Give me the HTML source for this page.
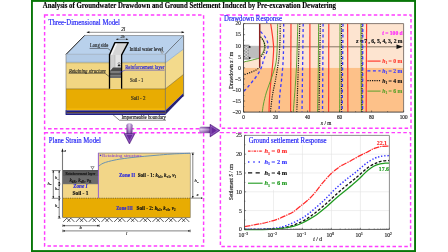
<!DOCTYPE html>
<html><head><meta charset="utf-8"><style>
html,body{margin:0;padding:0;background:#fff;width:448px;height:252px;overflow:hidden}
svg{display:block}
text{font-family:'Liberation Serif','Times New Roman',serif}
</style></head><body>
<svg width="448" height="252" viewBox="0 0 448 252">
<rect width="448" height="252" fill="#fff"/>
<rect x="31.95" y="0.95" width="383.1" height="250.1" fill="none" stroke="#087608" stroke-width="1.9"/>
<text x="42.7" y="8.1" font-size="7.5" font-weight="bold" fill="#000" textLength="293.3" lengthAdjust="spacingAndGlyphs" stroke="#000" stroke-width="0.15">Analysis of Groundwater Drawdown and Ground Settlement Induced by Pre-excavation Dewatering</text>
<rect x="44.6" y="15.0" width="159.0" height="113.80000000000001" fill="none" stroke="#ff3dff" stroke-width="1.45" stroke-dasharray="3.5 2.4"/>
<rect x="44.6" y="132.8" width="159.0" height="113.19999999999999" fill="none" stroke="#ff3dff" stroke-width="1.45" stroke-dasharray="3.5 2.4"/>
<rect x="220.4" y="15.0" width="190.6" height="113.30000000000001" fill="none" stroke="#ff3dff" stroke-width="1.45" stroke-dasharray="3.5 2.4"/>
<rect x="220.4" y="132.6" width="190.20000000000002" height="113.80000000000001" fill="none" stroke="#ff3dff" stroke-width="1.45" stroke-dasharray="3.5 2.4"/>
<text x="48.4" y="24.8" font-size="7.5" fill="#2b2bf5" stroke="#2b2bf5" stroke-width="0.2" textLength="71.6" lengthAdjust="spacingAndGlyphs">Three-Dimensional Model</text>
<line x1="86.8" y1="32.3" x2="184" y2="32.3" stroke="#444" stroke-width="0.6"/>
<path d="M86.6 32.3 L89.4 31.3 L89.4 33.3 Z M184.4 32.3 L181.6 31.3 L181.6 33.3 Z" fill="#111"/>
<text x="121.2" y="30.5" font-size="5.2" font-style="italic" fill="#222" stroke="#222" stroke-width="0.15">2l</text>
<polygon points="84.7,35.4 183.3,35.6 165.4,54.4 66,54.4" fill="#b9d1ec" stroke="#555" stroke-width="0.5"/>
<line x1="84.7" y1="35.4" x2="66" y2="54.4" stroke="#222" stroke-width="0.9"/>
<line x1="183.3" y1="35.6" x2="165.4" y2="54.4" stroke="#222" stroke-width="0.8"/>
<rect x="66" y="54.4" width="99.4" height="8.3" fill="#b3cbe6"/>
<line x1="66" y1="62.2" x2="165.4" y2="62.2" stroke="#8bb0dc" stroke-width="0.9"/>
<rect x="66" y="62.7" width="99.4" height="26.1" fill="#f1d683"/>
<line x1="66" y1="62.9" x2="165.4" y2="62.9" stroke="#a08a50" stroke-width="0.5"/>
<rect x="66" y="88.8" width="99.4" height="21.6" fill="#e8ac02"/>
<rect x="66" y="108.6" width="99.4" height="1" fill="#fbbf10"/>
<line x1="66" y1="88.9" x2="165.4" y2="88.9" stroke="#6b5a2a" stroke-width="0.5"/>
<rect x="66" y="110.4" width="99.4" height="1.7" fill="#1c1c8c"/>
<rect x="66" y="112.1" width="99.4" height="1.4" fill="#4a3228"/>
<rect x="66" y="113.4" width="99.4" height="1.6" fill="#22208a"/>
<rect x="65.6" y="110.2" width="1.2" height="4.8" fill="#1c1c8c"/>
<polygon points="165.4,54.4 183.3,35.6 183.3,49.2 165.4,62.7" fill="#b6cee8"/>
<polygon points="165.4,62.7 183.3,49.2 183.3,74.6 165.4,88.8" fill="#f3da8c"/>
<polygon points="165.4,88.8 183.3,74.6 183.3,93.2 165.4,110.4" fill="#e9ae06"/>
<polygon points="165.4,110.4 183.3,93.2 183.3,96.2 165.4,114.7" fill="#1c1c8c"/>
<polygon points="165.4,112.1 183.3,94.7 183.3,95.3 165.4,113.5" fill="#3a2a50"/>
<line x1="165.4" y1="62.7" x2="183.3" y2="49.2" stroke="#7fa6d6" stroke-width="0.7"/>
<line x1="165.4" y1="88.8" x2="183.3" y2="74.6" stroke="#6b5a2a" stroke-width="0.5"/>
<line x1="165.4" y1="54.4" x2="165.4" y2="114.7" stroke="#555" stroke-width="0.6"/>
<line x1="183.6" y1="35.6" x2="183.6" y2="96.2" stroke="#444" stroke-width="0.7"/>
<line x1="66" y1="54.4" x2="66" y2="114" stroke="#777" stroke-width="0.6"/>
<rect x="110" y="54.4" width="11.4" height="34.3" fill="#e4e4e4"/>
<rect x="110" y="54.4" width="5" height="14" fill="#d0d0d0"/>
<line x1="115" y1="54.4" x2="115" y2="68" stroke="#9a9a9a" stroke-width="0.4"/>
<path d="M117.6 66.2 A1.5 1.7 0 0 1 120.6 66.2 Z" fill="#222"/><circle cx="119.1" cy="63.6" r="1.0" fill="#fff" stroke="#333" stroke-width="0.5"/>
<polygon points="110,71 113,67.4 121.4,67.4 121.4,71" fill="#4a4a4a"/>
<rect x="110" y="71" width="11.4" height="2" fill="#7c7c7c"/>
<rect x="110" y="73" width="11.4" height="2.2" fill="#555"/>
<rect x="110" y="75.2" width="11.4" height="2.8" fill="#6c6c6c"/>
<rect x="110" y="78" width="11.4" height="10.7" fill="#f1d683"/>
<polygon points="114.9,42.6 128.2,42.6 121.6,55 109.4,55" fill="#d6d6d6"/>
<polygon points="114.9,42.6 117.8,42.6 112.2,55 109.4,55" fill="#f4f4f4"/>
<path d="M121.6 55 L128.2 42.6 L114.9 42.6 L109.4 55" fill="none" stroke="#000" stroke-width="1.4" stroke-linejoin="round"/>
<line x1="109.5" y1="54.5" x2="109.5" y2="88.7" stroke="#000" stroke-width="1.3"/>
<line x1="121.6" y1="54.5" x2="121.6" y2="88.7" stroke="#000" stroke-width="1.3"/>
<line x1="116" y1="39.3" x2="128.2" y2="39.3" stroke="#333" stroke-width="0.45"/>
<path d="M116 39.3 L118.2 38.5 L118.2 40.1 Z M128.2 39.3 L126 38.5 L126 40.1 Z" fill="#111"/>
<text x="120.4" y="37.6" font-size="4.2" font-style="italic" fill="#333" stroke="#333" stroke-width="0.15">2b</text>
<text x="90" y="47.3" font-size="5.7" fill="#222" textLength="18.2" lengthAdjust="spacingAndGlyphs" stroke="#222" stroke-width="0.15">Long side</text>
<path d="M89.6 48.4 L107.8 48.4 L110.6 50.6" fill="none" stroke="#222" stroke-width="0.55"/>
<text x="129.5" y="50.6" font-size="5.7" fill="#222" textLength="33.5" lengthAdjust="spacingAndGlyphs" stroke="#222" stroke-width="0.15">Initial water level</text>
<path d="M160.6 51.6 L163.6 51.6 L162.1 53.4 Z" fill="#fff" stroke="#222" stroke-width="0.4"/>
<text x="69" y="72.5" font-size="5.7" font-style="italic" fill="#222" textLength="36.7" lengthAdjust="spacingAndGlyphs" stroke="#222" stroke-width="0.15">Retaining structure</text>
<path d="M68.6 73.3 L105 73.3 L109.3 76.6" fill="none" stroke="#222" stroke-width="0.55"/>
<text x="125.2" y="69.0" font-size="5.7" fill="#2020e0" textLength="39.1" lengthAdjust="spacingAndGlyphs" stroke="#2020e0" stroke-width="0.15">Reinforcement layer</text>
<path d="M164.5 70.1 L125 70.1 L119.8 72.4" fill="none" stroke="#2020e0" stroke-width="0.55"/>
<text x="129.9" y="81.6" font-size="5.7" fill="#222" textLength="13.5" lengthAdjust="spacingAndGlyphs" stroke="#222" stroke-width="0.15">Soil - 1</text>
<text x="130.9" y="99.5" font-size="5.7" fill="#222" textLength="14.5" lengthAdjust="spacingAndGlyphs" stroke="#222" stroke-width="0.15">Soil - 2</text>
<text x="121.5" y="119.4" font-size="5.7" fill="#222" textLength="44.5" lengthAdjust="spacingAndGlyphs" stroke="#222" stroke-width="0.15">Impermeable boundary</text>
<path d="M112.8 114.6 L119.4 120.2 L166 120.2" fill="none" stroke="#222" stroke-width="0.55"/>
<defs><linearGradient id="gsv" x1="0" y1="0" x2="1" y2="0"><stop offset="0" stop-color="#6a2c98"/><stop offset="0.45" stop-color="#e2ccf4"/><stop offset="1" stop-color="#6a2c98"/></linearGradient><linearGradient id="gsh" x1="0" y1="0" x2="0" y2="1"><stop offset="0" stop-color="#6a2c98"/><stop offset="0.45" stop-color="#e2ccf4"/><stop offset="1" stop-color="#6a2c98"/></linearGradient><linearGradient id="gfv" x1="0" y1="0" x2="0" y2="1"><stop offset="0" stop-color="#ffffff" stop-opacity="0.35"/><stop offset="1" stop-color="#4a1870" stop-opacity="0.5"/></linearGradient><linearGradient id="gfh" x1="0" y1="0" x2="1" y2="0"><stop offset="0" stop-color="#ffffff" stop-opacity="0.35"/><stop offset="1" stop-color="#4a1870" stop-opacity="0.5"/></linearGradient></defs>
<path d="M126.8 134 V125.2 Q126.8 123.9 128.1 123.9 H130.9 Q132.2 123.9 132.2 125.2 V134 Z" fill="url(#gsv)" stroke="#5a2288" stroke-width="0.4"/>
<rect x="126.8" y="123.9" width="5.4" height="10.1" fill="url(#gfv)"/>
<polygon points="123.9,133.4 135,133.4 129.45,144" fill="#7434a8" stroke="#4a1870" stroke-width="0.5"/>
<polygon points="125.8,134.4 133.1,134.4 129.45,141.4" fill="#6a2a9c" stroke="#b894dc" stroke-width="0.45"/>
<path d="M210.2 127 H201.1 Q199.8 127 199.8 128.3 V131.5 Q199.8 132.8 201.1 132.8 H210.2 Z" fill="url(#gsh)" stroke="#5a2288" stroke-width="0.4"/>
<rect x="199.8" y="127" width="10.4" height="5.8" fill="url(#gfh)"/>
<polygon points="210,124.2 210,137 220,130.4" fill="#7434a8" stroke="#4a1870" stroke-width="0.5"/>
<polygon points="211,126.2 211,134.9 217.6,130.5" fill="#6a2a9c" stroke="#b894dc" stroke-width="0.45"/>
<text x="224" y="20.8" font-size="7.4" fill="#2b2bf5" stroke="#2b2bf5" stroke-width="0.2" textLength="57.9" lengthAdjust="spacingAndGlyphs">Drawdown Response</text>
<rect x="243.5" y="23.6" width="160.10000000000002" height="44.24999999999999" fill="#fde4d0"/>
<rect x="243.5" y="67.85" width="160.10000000000002" height="44.25" fill="#fdc189"/>
<polygon points="243.5,23.6 259.51,23.6 259.51,58 243.5,61.9" fill="#ffffff"/>
<rect x="249.6" y="45.8" width="9.4" height="12.8" fill="#bdbdbd"/>
<rect x="243.6" y="44.7" width="5.9" height="15" fill="#9a9a9a"/>
<path d="M244 46 L248.5 49 L244 52 L248.5 55 L244 58 M248.5 46 L244 49 L248.5 52 L244 55 L248.5 58" stroke="#e8e8e8" stroke-width="0.7" fill="none"/>
<circle cx="249.7" cy="46.9" r="0.9" fill="#111"/><circle cx="249.7" cy="58" r="0.9" fill="#111"/>
<line x1="259.51" y1="46.8" x2="399" y2="46.8" stroke="#857565" stroke-width="1.0"/>
<polygon points="396.5,44.6 403,46.8 396.5,49 " fill="#111"/>
<path d="M260.40 31.50 C261.08 32.25 263.32 34.25 264.50 36.00 C265.68 37.75 266.92 40.17 267.50 42.00 C268.08 43.83 268.17 45.17 268.00 47.00 C267.83 48.83 267.25 50.83 266.50 53.00 C265.75 55.17 264.25 57.83 263.50 60.00 C262.75 62.17 262.92 63.67 262.00 66.00 C261.08 68.33 259.67 71.33 258.00 74.00 C256.33 76.67 253.83 79.67 252.00 82.00 C250.17 84.33 248.37 86.42 247.00 88.00 C245.63 89.58 244.33 90.92 243.80 91.50" fill="none" stroke="#3a3aff" stroke-width="1.3" stroke-dasharray="3 2.5"/>
<path d="M260.40 36.00 C260.83 36.67 262.32 38.50 263.00 40.00 C263.68 41.50 264.33 43.33 264.50 45.00 C264.67 46.67 264.42 48.50 264.00 50.00 C263.58 51.50 262.60 53.00 262.00 54.00 C261.40 55.00 260.67 55.67 260.40 56.00" fill="none" stroke="#5aa02c" stroke-width="0.95"/>
<path d="M260.40 37.00 C260.93 37.67 262.83 39.50 263.60 41.00 C264.37 42.50 264.85 44.33 265.00 46.00 C265.15 47.67 264.92 49.50 264.50 51.00 C264.08 52.50 263.18 54.00 262.50 55.00 C261.82 56.00 260.75 56.67 260.40 57.00" fill="none" stroke="#151515" stroke-width="1.1" stroke-dasharray="1.2 1.1"/>
<path d="M243.50 61.90 C244.58 61.68 247.42 61.22 250.00 60.60 C252.58 59.98 257.50 58.60 259.00 58.20" fill="none" stroke="#5aa02c" stroke-width="0.95"/>
<path d="M260.00 66.80 C259.33 67.33 257.67 69.03 256.00 70.00 C254.33 70.97 252.00 71.80 250.00 72.60 C248.00 73.40 245.00 74.43 244.00 74.80" fill="none" stroke="#151515" stroke-width="1.15" stroke-dasharray="1.2 1.1"/>
<path d="M270.70 23.60 C271.00 25.67 272.02 32.10 272.50 36.00 C272.98 39.90 273.47 43.67 273.60 47.00 C273.73 50.33 273.48 52.83 273.30 56.00 C273.12 59.17 272.97 61.17 272.50 66.00 C272.03 70.83 271.02 79.33 270.50 85.00 C269.98 90.67 269.65 95.48 269.40 100.00 C269.15 104.52 269.07 110.08 269.00 112.10" fill="none" stroke="#ff3b2f" stroke-width="1.2"/>
<path d="M277.60 23.60 C277.57 26.33 277.53 34.77 277.40 40.00 C277.27 45.23 277.12 50.83 276.80 55.00 C276.48 59.17 276.38 61.17 275.50 65.00 C274.62 68.83 273.00 73.50 271.50 78.00 C270.00 82.50 267.83 87.67 266.50 92.00 C265.17 96.33 264.20 100.65 263.50 104.00 C262.80 107.35 262.50 110.75 262.30 112.10" fill="none" stroke="#5aa02c" stroke-width="0.95"/>
<path d="M280.20 23.60 C280.17 26.33 280.17 34.77 280.00 40.00 C279.83 45.23 279.53 50.83 279.20 55.00 C278.87 59.17 278.62 60.83 278.00 65.00 C277.38 69.17 276.42 75.00 275.50 80.00 C274.58 85.00 273.35 89.65 272.50 95.00 C271.65 100.35 270.75 109.25 270.40 112.10" fill="none" stroke="#151515" stroke-width="1.15" stroke-dasharray="1.2 1.1"/>
<path d="M283.70 23.60 C283.68 27.17 283.72 38.43 283.60 45.00 C283.48 51.57 283.35 57.17 283.00 63.00 C282.65 68.83 282.03 74.67 281.50 80.00 C280.97 85.33 280.22 89.65 279.80 95.00 C279.38 100.35 279.13 109.25 279.00 112.10" fill="none" stroke="#3a3aff" stroke-width="1.3" stroke-dasharray="3 2.5"/>
<path d="M291.00 23.60 L290.60 112.10" fill="none" stroke="#ff3b2f" stroke-width="1.2"/>
<path d="M297.80 23.60 C297.57 30.98 297.20 53.10 296.45 67.85 C295.70 82.60 293.82 104.72 293.30 112.10" fill="none" stroke="#5aa02c" stroke-width="0.95"/>
<path d="M299.80 23.60 L296.80 112.10" fill="none" stroke="#151515" stroke-width="1.15" stroke-dasharray="1.2 1.1"/>
<path d="M303.20 23.60 L302.00 112.10" fill="none" stroke="#3a3aff" stroke-width="1.3" stroke-dasharray="3 2.5"/>
<path d="M309.90 23.60 L309.80 112.10" fill="none" stroke="#ff3b2f" stroke-width="1.2"/>
<path d="M318.60 23.60 C318.55 30.98 318.47 53.10 318.30 67.85 C318.13 82.60 317.72 104.72 317.60 112.10" fill="none" stroke="#5aa02c" stroke-width="0.95"/>
<path d="M320.30 23.60 L319.00 112.10" fill="none" stroke="#151515" stroke-width="1.15" stroke-dasharray="1.2 1.1"/>
<path d="M323.10 23.60 L322.50 112.10" fill="none" stroke="#3a3aff" stroke-width="1.3" stroke-dasharray="3 2.5"/>
<path d="M328.80 23.60 L328.60 112.10" fill="none" stroke="#ff3b2f" stroke-width="1.2"/>
<path d="M340.00 23.60 C339.98 30.98 339.95 53.10 339.88 67.85 C339.81 82.60 339.65 104.72 339.60 112.10" fill="none" stroke="#5aa02c" stroke-width="0.95"/>
<path d="M341.50 23.60 L341.40 112.10" fill="none" stroke="#151515" stroke-width="1.15" stroke-dasharray="1.2 1.1"/>
<path d="M343.00 23.60 L342.20 112.10" fill="none" stroke="#3a3aff" stroke-width="1.3" stroke-dasharray="3 2.5"/>
<path d="M347.60 23.60 L347.90 112.10" fill="none" stroke="#ff3b2f" stroke-width="1.2"/>
<path d="M360.90 23.60 C360.92 30.98 360.97 53.10 361.05 67.85 C361.13 82.60 361.34 104.72 361.40 112.10" fill="none" stroke="#5aa02c" stroke-width="0.95"/>
<path d="M362.00 23.60 L362.00 112.10" fill="none" stroke="#151515" stroke-width="1.15" stroke-dasharray="1.2 1.1"/>
<path d="M362.80 23.60 L362.60 112.10" fill="none" stroke="#3a3aff" stroke-width="1.3" stroke-dasharray="3 2.5"/>
<path d="M366.60 23.60 L366.20 112.10" fill="none" stroke="#ff3b2f" stroke-width="1.2"/>
<line x1="259.71" y1="23.6" x2="259.71" y2="66.9" stroke="#8b2323" stroke-width="1.5"/>
<path d="M243.5 23.6 H403.6 V112.1" fill="none" stroke="#7a6e66" stroke-width="0.9"/>
<path d="M243.5 23.6 V112.1 H403.6" fill="none" stroke="#3a3a3a" stroke-width="0.9"/>
<path d="M243.5 112.10 h1.6 M243.5 101.04 h1.6 M243.5 89.97 h1.6 M243.5 78.91 h1.6 M243.5 67.85 h1.6 M243.5 56.79 h1.6 M243.5 45.73 h1.6 M243.5 34.66 h1.6 M243.5 23.60 h1.6 M243.5 106.57 h0.9 M243.5 95.51 h0.9 M243.5 84.44 h0.9 M243.5 73.38 h0.9 M243.5 62.32 h0.9 M243.5 51.26 h0.9 M243.5 40.19 h0.9 M243.5 29.13 h0.9 M243.50 112.1 v-1.6 M275.52 112.1 v-1.6 M307.54 112.1 v-1.6 M339.56 112.1 v-1.6 M371.58 112.1 v-1.6 M403.60 112.1 v-1.6 M259.51 112.1 v-0.9 M291.53 112.1 v-0.9 M323.55 112.1 v-0.9 M355.57 112.1 v-0.9 M387.59 112.1 v-0.9" stroke="#333" stroke-width="0.6"/>
<text x="240.8" y="113.90" font-size="5.2" text-anchor="end" fill="#222" stroke="#222" stroke-width="0.15">−20</text>
<text x="240.8" y="102.84" font-size="5.2" text-anchor="end" fill="#222" stroke="#222" stroke-width="0.15">−15</text>
<text x="240.8" y="91.77" font-size="5.2" text-anchor="end" fill="#222" stroke="#222" stroke-width="0.15">−10</text>
<text x="240.8" y="80.71" font-size="5.2" text-anchor="end" fill="#222" stroke="#222" stroke-width="0.15">−5</text>
<text x="240.8" y="69.65" font-size="5.2" text-anchor="end" fill="#222" stroke="#222" stroke-width="0.15">0</text>
<text x="240.8" y="58.59" font-size="5.2" text-anchor="end" fill="#222" stroke="#222" stroke-width="0.15">5</text>
<text x="240.8" y="47.52" font-size="5.2" text-anchor="end" fill="#222" stroke="#222" stroke-width="0.15">10</text>
<text x="240.8" y="36.46" font-size="5.2" text-anchor="end" fill="#222" stroke="#222" stroke-width="0.15">15</text>
<text x="240.8" y="25.40" font-size="5.2" text-anchor="end" fill="#222" stroke="#222" stroke-width="0.15">20</text>
<text x="243.50" y="119.4" font-size="5.2" text-anchor="middle" fill="#222" stroke="#222" stroke-width="0.15">0</text>
<text x="275.52" y="119.4" font-size="5.2" text-anchor="middle" fill="#222" stroke="#222" stroke-width="0.15">20</text>
<text x="307.54" y="119.4" font-size="5.2" text-anchor="middle" fill="#222" stroke="#222" stroke-width="0.15">40</text>
<text x="339.56" y="119.4" font-size="5.2" text-anchor="middle" fill="#222" stroke="#222" stroke-width="0.15">60</text>
<text x="371.58" y="119.4" font-size="5.2" text-anchor="middle" fill="#222" stroke="#222" stroke-width="0.15">80</text>
<text x="403.60" y="119.4" font-size="5.2" text-anchor="middle" fill="#222" stroke="#222" stroke-width="0.15">100</text>
<text x="326" y="125" font-size="5.2" text-anchor="middle" fill="#222" stroke="#222" stroke-width="0.15"><tspan font-style="italic">x</tspan> / m</text>
<text transform="translate(232.5,70.5) rotate(-90)" font-size="5.4" text-anchor="middle" fill="#222" textLength="37" lengthAdjust="spacingAndGlyphs" stroke="#222" stroke-width="0.15">Drawdown <tspan font-style="italic">s</tspan> / m</text>
<text x="382.3" y="35.2" font-size="5.6" font-weight="bold" fill="#ff22ff" textLength="20.4" lengthAdjust="spacingAndGlyphs" stroke="#ff22ff" stroke-width="0.15"><tspan font-style="italic">t</tspan> = 100 d</text>
<text x="356.2" y="43.1" font-size="5.4" font-weight="bold" fill="#111" textLength="46.3" lengthAdjust="spacingAndGlyphs" stroke="#111" stroke-width="0.15"><tspan font-style="italic">z</tspan> = 7 , 6, 5, 4, 3, 2 m</text>
<line x1="367.4" y1="61.1" x2="380.6" y2="61.1" stroke="#ff3b2f" stroke-width="1.2"/>
<text x="382.2" y="63.00" font-size="5.6" font-weight="bold" fill="#ff3b2f" textLength="20.2" lengthAdjust="spacingAndGlyphs" stroke="#ff3b2f" stroke-width="0.15"><tspan font-style="italic">h</tspan><tspan font-size="3.4" dy="1.2">1</tspan><tspan dy="-1.2"> = 0 m</tspan></text>
<line x1="367.4" y1="70.9" x2="380.6" y2="70.9" stroke="#3a3aff" stroke-width="1.3" stroke-dasharray="3 2.5"/>
<text x="382.2" y="72.80" font-size="5.6" font-weight="bold" fill="#3a3aff" textLength="20.2" lengthAdjust="spacingAndGlyphs" stroke="#3a3aff" stroke-width="0.15"><tspan font-style="italic">h</tspan><tspan font-size="3.4" dy="1.2">1</tspan><tspan dy="-1.2"> = 2 m</tspan></text>
<line x1="367.4" y1="80.6" x2="380.6" y2="80.6" stroke="#151515" stroke-width="1.15" stroke-dasharray="1.2 1.1"/>
<text x="382.2" y="82.50" font-size="5.6" font-weight="bold" fill="#151515" textLength="20.2" lengthAdjust="spacingAndGlyphs" stroke="#151515" stroke-width="0.15"><tspan font-style="italic">h</tspan><tspan font-size="3.4" dy="1.2">1</tspan><tspan dy="-1.2"> = 4 m</tspan></text>
<line x1="367.4" y1="91.1" x2="380.6" y2="91.1" stroke="#5aa02c" stroke-width="1.0"/>
<text x="382.2" y="93.00" font-size="5.6" font-weight="bold" fill="#5aa02c" textLength="20.2" lengthAdjust="spacingAndGlyphs" stroke="#5aa02c" stroke-width="0.15"><tspan font-style="italic">h</tspan><tspan font-size="3.4" dy="1.2">1</tspan><tspan dy="-1.2"> = 6 m</tspan></text>
<path d="M273.48 135.4 V229.4 M302.46 135.4 V229.4 M331.44 135.4 V229.4 M360.42 135.4 V229.4 M244.5 210.60 H389.4 M244.5 191.80 H389.4 M244.5 173.00 H389.4 M244.5 154.20 H389.4" stroke="#e2e2e2" stroke-width="0.6"/>
<rect x="244.9" y="135.8" width="84" height="9" fill="#fff"/>
<rect x="244.9" y="135.8" width="44" height="54" fill="#fff"/>
<path d="M244.50 229.40 C248.75 229.35 263.25 229.42 270.00 229.10 C276.75 228.78 281.00 228.18 285.00 227.50 C289.00 226.82 291.22 225.97 294.00 225.00 C296.78 224.03 299.37 222.87 301.70 221.70 C304.03 220.53 305.92 219.35 308.00 218.00 C310.08 216.65 311.63 215.58 314.20 213.60 C316.77 211.62 320.30 208.77 323.40 206.10 C326.50 203.43 329.63 200.47 332.80 197.60 C335.97 194.73 338.97 191.85 342.40 188.90 C345.83 185.95 350.77 182.07 353.40 179.90 C356.03 177.73 356.48 177.37 358.20 175.90 C359.92 174.43 361.87 172.65 363.70 171.10 C365.53 169.55 367.22 167.90 369.20 166.60 C371.18 165.30 373.63 164.18 375.60 163.30 C377.57 162.42 378.70 161.77 381.00 161.30 C383.30 160.83 388.00 160.63 389.40 160.50" fill="none" stroke="#111" stroke-width="1.3" stroke-dasharray="2.8 1.8"/>
<path d="M244.50 229.30 C247.92 229.25 259.42 229.25 265.00 229.00 C270.58 228.75 274.52 228.35 278.00 227.80 C281.48 227.25 283.23 226.60 285.90 225.70 C288.57 224.80 291.37 223.62 294.00 222.40 C296.63 221.18 299.25 219.87 301.70 218.40 C304.15 216.93 306.15 215.57 308.70 213.60 C311.25 211.63 314.55 208.72 317.00 206.60 C319.45 204.48 321.40 202.78 323.40 200.90 C325.40 199.02 326.90 197.42 329.00 195.30 C331.10 193.18 333.32 190.68 336.00 188.20 C338.68 185.72 342.58 182.48 345.10 180.40 C347.62 178.32 349.22 177.17 351.10 175.70 C352.98 174.23 354.60 173.07 356.40 171.60 C358.20 170.13 359.92 168.53 361.90 166.90 C363.88 165.27 366.17 163.23 368.30 161.80 C370.43 160.37 372.88 159.15 374.70 158.30 C376.52 157.45 377.65 157.10 379.20 156.70 C380.75 156.30 382.30 156.08 384.00 155.90 C385.70 155.72 388.50 155.65 389.40 155.60" fill="none" stroke="#3535ff" stroke-width="1.45" stroke-dasharray="1.4 1.75"/>
<path d="M244.50 226.60 C246.28 226.28 251.57 225.38 255.20 224.70 C258.83 224.02 262.58 223.42 266.30 222.50 C270.02 221.58 274.15 220.40 277.50 219.20 C280.85 218.00 283.80 216.52 286.40 215.30 C289.00 214.08 290.83 213.37 293.10 211.90 C295.37 210.43 297.55 208.45 300.00 206.50 C302.45 204.55 305.28 202.53 307.80 200.20 C310.32 197.87 312.73 195.25 315.10 192.50 C317.47 189.75 319.58 186.60 322.00 183.70 C324.42 180.80 327.43 177.33 329.60 175.10 C331.77 172.87 333.10 171.85 335.00 170.30 C336.90 168.75 338.50 167.32 341.00 165.80 C343.50 164.28 346.83 162.90 350.00 161.20 C353.17 159.50 357.17 157.10 360.00 155.60 C362.83 154.10 364.62 153.40 367.00 152.20 C369.38 151.00 371.90 149.35 374.30 148.40 C376.70 147.45 378.88 146.88 381.40 146.50 C383.92 146.12 388.07 146.17 389.40 146.10" fill="none" stroke="#ff2a2a" stroke-width="1.25" stroke-dasharray="6 0.9 1.3 0.9"/>
<path d="M244.50 229.60 C248.75 229.55 263.25 229.57 270.00 229.30 C276.75 229.03 281.00 228.52 285.00 228.00 C289.00 227.48 291.22 226.98 294.00 226.20 C296.78 225.42 299.20 224.43 301.70 223.30 C304.20 222.17 306.45 220.88 309.00 219.40 C311.55 217.92 314.38 216.25 317.00 214.40 C319.62 212.55 321.38 211.10 324.70 208.30 C328.02 205.50 333.35 200.63 336.90 197.60 C340.45 194.57 343.03 192.57 346.00 190.10 C348.97 187.63 352.37 184.82 354.70 182.80 C357.03 180.78 358.45 179.48 360.00 178.00 C361.55 176.52 362.62 175.25 364.00 173.90 C365.38 172.55 366.68 171.18 368.30 169.90 C369.92 168.62 371.73 167.22 373.70 166.20 C375.67 165.18 378.22 164.30 380.10 163.80 C381.98 163.30 383.45 163.32 385.00 163.20 C386.55 163.08 388.67 163.12 389.40 163.10" fill="none" stroke="#1f9a1f" stroke-width="1.25"/>
<path d="M244.5 135.4 H389.4 V229.4" fill="none" stroke="#8e8e8e" stroke-width="1"/>
<path d="M244.5 135.4 V229.4 H389.4" fill="none" stroke="#4a4a4a" stroke-width="0.9"/>
<path d="M244.5 229.40 h1.6 M244.5 210.60 h1.6 M244.5 191.80 h1.6 M244.5 173.00 h1.6 M244.5 154.20 h1.6 M244.5 135.40 h1.6 M244.5 220.00 h0.9 M244.5 201.20 h0.9 M244.5 182.40 h0.9 M244.5 163.60 h0.9 M244.5 144.80 h0.9 M244.50 229.4 v-1.6 M253.22 229.4 v-0.9 M258.33 229.4 v-0.9 M261.95 229.4 v-0.9 M264.76 229.4 v-0.9 M267.05 229.4 v-0.9 M268.99 229.4 v-0.9 M270.67 229.4 v-0.9 M272.15 229.4 v-0.9 M273.48 229.4 v-1.6 M282.20 229.4 v-0.9 M287.31 229.4 v-0.9 M290.93 229.4 v-0.9 M293.74 229.4 v-0.9 M296.03 229.4 v-0.9 M297.97 229.4 v-0.9 M299.65 229.4 v-0.9 M301.13 229.4 v-0.9 M302.46 229.4 v-1.6 M311.18 229.4 v-0.9 M316.29 229.4 v-0.9 M319.91 229.4 v-0.9 M322.72 229.4 v-0.9 M325.01 229.4 v-0.9 M326.95 229.4 v-0.9 M328.63 229.4 v-0.9 M330.11 229.4 v-0.9 M331.44 229.4 v-1.6 M340.16 229.4 v-0.9 M345.27 229.4 v-0.9 M348.89 229.4 v-0.9 M351.70 229.4 v-0.9 M353.99 229.4 v-0.9 M355.93 229.4 v-0.9 M357.61 229.4 v-0.9 M359.09 229.4 v-0.9 M360.42 229.4 v-1.6 M369.14 229.4 v-0.9 M374.25 229.4 v-0.9 M377.87 229.4 v-0.9 M380.68 229.4 v-0.9 M382.97 229.4 v-0.9 M384.91 229.4 v-0.9 M386.59 229.4 v-0.9 M388.07 229.4 v-0.9 M389.40 229.4 v-1.6" stroke="#333" stroke-width="0.55"/>
<text x="241.8" y="231.30" font-size="5.6" text-anchor="end" fill="#222" stroke="#222" stroke-width="0.15">0</text>
<text x="241.8" y="212.50" font-size="5.6" text-anchor="end" fill="#222" stroke="#222" stroke-width="0.15">5</text>
<text x="241.8" y="193.70" font-size="5.6" text-anchor="end" fill="#222" stroke="#222" stroke-width="0.15">10</text>
<text x="241.8" y="174.90" font-size="5.6" text-anchor="end" fill="#222" stroke="#222" stroke-width="0.15">15</text>
<text x="241.8" y="156.10" font-size="5.6" text-anchor="end" fill="#222" stroke="#222" stroke-width="0.15">20</text>
<text x="241.8" y="137.30" font-size="5.6" text-anchor="end" fill="#222" stroke="#222" stroke-width="0.15">25</text>
<text x="243.30" y="237.2" font-size="5.6" text-anchor="middle" fill="#222" stroke="#222" stroke-width="0.15">10<tspan font-size="3.6" dy="-2.2">−3</tspan></text>
<text x="272.28" y="237.2" font-size="5.6" text-anchor="middle" fill="#222" stroke="#222" stroke-width="0.15">10<tspan font-size="3.6" dy="-2.2">−2</tspan></text>
<text x="301.26" y="237.2" font-size="5.6" text-anchor="middle" fill="#222" stroke="#222" stroke-width="0.15">10<tspan font-size="3.6" dy="-2.2">−1</tspan></text>
<text x="330.24" y="237.2" font-size="5.6" text-anchor="middle" fill="#222" stroke="#222" stroke-width="0.15">10<tspan font-size="3.6" dy="-2.2">0</tspan></text>
<text x="359.22" y="237.2" font-size="5.6" text-anchor="middle" fill="#222" stroke="#222" stroke-width="0.15">10<tspan font-size="3.6" dy="-2.2">1</tspan></text>
<text x="388.20" y="237.2" font-size="5.6" text-anchor="middle" fill="#222" stroke="#222" stroke-width="0.15">10<tspan font-size="3.6" dy="-2.2">2</tspan></text>
<text x="317.6" y="240.8" font-size="5.6" text-anchor="middle" fill="#222" stroke="#222" stroke-width="0.15"><tspan font-style="italic">t</tspan> / d</text>
<text transform="translate(233.2,181.9) rotate(-90)" font-size="5.8" text-anchor="middle" fill="#222" textLength="36" lengthAdjust="spacingAndGlyphs" stroke="#222" stroke-width="0.15">Settlement <tspan font-style="italic">S</tspan> / cm</text>
<text x="248.7" y="142.7" font-size="7.4" fill="#2b2bf5" stroke="#2b2bf5" stroke-width="0.2" textLength="77.9" lengthAdjust="spacingAndGlyphs">Ground settlement Response</text>
<line x1="248" y1="151.1" x2="262.9" y2="151.1" stroke="#ff2a2a" stroke-width="1.1" stroke-dasharray="2.6 1 1 1"/>
<text x="264.4" y="153.20" font-size="6.2" font-weight="bold" fill="#ff2a2a" textLength="22.7" lengthAdjust="spacingAndGlyphs" stroke="#ff2a2a" stroke-width="0.15"><tspan font-style="italic">h</tspan><tspan font-size="3.8" dy="1.3">1</tspan><tspan dy="-1.3"> = 0 m</tspan></text>
<line x1="248" y1="162.0" x2="260.5" y2="162.0" stroke="#3535ff" stroke-width="1.4" stroke-dasharray="1.4 3.9"/>
<text x="264.4" y="164.10" font-size="6.2" font-weight="bold" fill="#3535ff" textLength="22.7" lengthAdjust="spacingAndGlyphs" stroke="#3535ff" stroke-width="0.15"><tspan font-style="italic">h</tspan><tspan font-size="3.8" dy="1.3">1</tspan><tspan dy="-1.3"> = 2 m</tspan></text>
<line x1="248" y1="172.8" x2="261.2" y2="172.8" stroke="#111" stroke-width="1.2" stroke-dasharray="4.2 3.4"/>
<text x="264.4" y="174.90" font-size="6.2" font-weight="bold" fill="#111" textLength="22.7" lengthAdjust="spacingAndGlyphs" stroke="#111" stroke-width="0.15"><tspan font-style="italic">h</tspan><tspan font-size="3.8" dy="1.3">1</tspan><tspan dy="-1.3"> = 4 m</tspan></text>
<line x1="248" y1="183.2" x2="262.6" y2="183.2" stroke="#1f9a1f" stroke-width="1.1"/>
<text x="264.4" y="185.30" font-size="6.2" font-weight="bold" fill="#1f9a1f" textLength="22.7" lengthAdjust="spacingAndGlyphs" stroke="#1f9a1f" stroke-width="0.15"><tspan font-style="italic">h</tspan><tspan font-size="3.8" dy="1.3">1</tspan><tspan dy="-1.3"> = 6 m</tspan></text>
<text x="376.7" y="145.2" font-size="6.2" font-weight="bold" fill="#ff2a2a" textLength="10.4" lengthAdjust="spacingAndGlyphs" stroke="#ff2a2a" stroke-width="0.15">22.1</text>
<text x="389" y="170.6" font-size="5.8" font-weight="bold" text-anchor="end" fill="#1f9a1f" stroke="#1f9a1f" stroke-width="0.15">17.6</text>
<text x="48.8" y="143" font-size="7.4" fill="#2b2bf5" stroke="#2b2bf5" stroke-width="0.2" textLength="52.2" lengthAdjust="spacingAndGlyphs">Plane Strain Model</text>
<rect x="98.3" y="152.9" width="92" height="45.2" fill="#f2d688"/>
<rect x="62.8" y="183.9" width="35.5" height="14.2" fill="#f2d688"/>
<rect x="62.8" y="198.1" width="127.5" height="19.4" fill="#e8ac02"/>
<rect x="62.8" y="170.4" width="35.5" height="13.5" fill="#6a6a6a"/>
<rect x="62.8" y="170.4" width="35.5" height="5.6" fill="#5c5c5c"/>
<line x1="62.8" y1="170.6" x2="98.3" y2="170.6" stroke="#333" stroke-width="0.6"/>
<line x1="62.8" y1="183.9" x2="98.3" y2="183.9" stroke="#555" stroke-width="0.4"/>
<line x1="98.3" y1="153.1" x2="190.3" y2="153.1" stroke="#6d6d8a" stroke-width="0.6"/>
<line x1="190.4" y1="152.9" x2="190.4" y2="217.5" stroke="#5a5a5a" stroke-width="0.45"/>
<line x1="62.8" y1="198.2" x2="190.3" y2="198.2" stroke="#222" stroke-width="0.6" stroke-dasharray="0.9 0.9"/>
<path d="M98.40 166.20 C99.17 165.72 101.32 164.08 103.00 163.30 C104.68 162.52 106.50 162.05 108.50 161.50 C110.50 160.95 112.75 160.45 115.00 160.00 C117.25 159.55 118.67 159.27 122.00 158.80 C125.33 158.33 129.50 157.77 135.00 157.20 C140.50 156.63 148.83 155.93 155.00 155.40 C161.17 154.87 166.17 154.35 172.00 154.00 C177.83 153.65 187.00 153.42 190.00 153.30" fill="none" stroke="#5b8ab5" stroke-width="0.9"/>
<line x1="98.4" y1="152.9" x2="98.4" y2="198.1" stroke="#8a50d0" stroke-width="0.9"/>
<rect x="99.8" y="154.7" width="1.4" height="1.4" fill="#3a2ad0"/>
<text x="102" y="156.7" font-size="4.8" fill="#8a48d0" stroke="#8a48d0" stroke-width="0.05" textLength="40.2" lengthAdjust="spacingAndGlyphs">Retaining structure</text>
<text x="119" y="176.9" font-size="5.6" font-weight="bold" fill="#2525e0" textLength="16.1" lengthAdjust="spacingAndGlyphs" stroke="#2525e0" stroke-width="0.15">Zone II</text>
<text x="137.8" y="176.9" font-size="5.4" font-weight="bold" fill="#111" textLength="38.3" lengthAdjust="spacingAndGlyphs" stroke="#111" stroke-width="0.15">Soil - 1: <tspan font-style="italic">k</tspan><tspan font-size="3.4" dy="1">h1</tspan><tspan dy="-1">, </tspan><tspan font-style="italic">k</tspan><tspan font-size="3.4" dy="1">v1</tspan><tspan dy="-1">, </tspan><tspan font-style="italic">v</tspan><tspan font-size="3.4" dy="1">1</tspan></text>
<text x="116.3" y="209.6" font-size="5.6" font-weight="bold" fill="#2525e0" textLength="16.4" lengthAdjust="spacingAndGlyphs" stroke="#2525e0" stroke-width="0.15">Zone III</text>
<text x="136.6" y="209.6" font-size="5.4" font-weight="bold" fill="#111" textLength="39" lengthAdjust="spacingAndGlyphs" stroke="#111" stroke-width="0.15">Soil - 2: <tspan font-style="italic">k</tspan><tspan font-size="3.4" dy="1">h2</tspan><tspan dy="-1">, </tspan><tspan font-style="italic">k</tspan><tspan font-size="3.4" dy="1">v2</tspan><tspan dy="-1">, </tspan><tspan font-style="italic">v</tspan><tspan font-size="3.4" dy="1">2</tspan></text>
<text x="80.4" y="187.6" font-size="5.2" font-weight="bold" font-style="italic" fill="#2525e0" text-anchor="middle" stroke="#2525e0" stroke-width="0.15">Zone I</text>
<text x="80.4" y="195.3" font-size="5.4" font-weight="bold" fill="#111" text-anchor="middle" stroke="#111" stroke-width="0.15">Soil - 1</text>
<text x="65.6" y="174.9" font-size="3.8" fill="#111" textLength="29.6" lengthAdjust="spacingAndGlyphs" stroke="#111" stroke-width="0.15">Reinforcement layer</text>
<text x="80.4" y="181.7" font-size="5.2" fill="#111" text-anchor="middle" stroke="#111" stroke-width="0.15"><tspan font-style="italic">k</tspan><tspan font-size="3.2" dy="0.9">hR</tspan><tspan dy="-0.9">, </tspan><tspan font-style="italic">k</tspan><tspan font-size="3.2" dy="0.9">vR</tspan><tspan dy="-0.9">, </tspan><tspan font-style="italic">v</tspan><tspan font-size="3.2" dy="0.9">R</tspan></text>
<path d="M90.8 166.6 L94.2 166.6 L92.5 169 Z" fill="#fff" stroke="#222" stroke-width="0.45"/><line x1="92.5" y1="169" x2="92.5" y2="170.4" stroke="#222" stroke-width="0.4"/>
<line x1="62.5" y1="150.5" x2="62.5" y2="217.5" stroke="#7a7a7a" stroke-width="1.1"/>
<polygon points="61.3,151.8 62.5,148.3 63.7,151.8" fill="#111"/>
<text x="64.3" y="151.9" font-size="4.6" font-style="italic" fill="#111" stroke="#111" stroke-width="0.15">z</text>
<path d="M66.8 218.2 L63.2 221.9 M66.8 218.2 L70.4 221.9 M70.8 218.2 L67.2 221.9 M70.8 218.2 L74.4 221.9 M79.5 218.2 L76.0 221.9 M79.5 218.2 L83.1 221.9 M83.5 218.2 L80.0 221.9 M83.5 218.2 L87.1 221.9 M92.3 218.2 L88.7 221.9 M92.3 218.2 L95.9 221.9 M96.3 218.2 L92.7 221.9 M96.3 218.2 L99.9 221.9 M105.0 218.2 L101.5 221.9 M105.0 218.2 L108.6 221.9 M109.0 218.2 L105.5 221.9 M109.0 218.2 L112.6 221.9 M117.8 218.2 L114.2 221.9 M117.8 218.2 L121.4 221.9 M121.8 218.2 L118.2 221.9 M121.8 218.2 L125.4 221.9 M130.6 218.2 L127.0 221.9 M130.6 218.2 L134.2 221.9 M134.6 218.2 L131.0 221.9 M134.6 218.2 L138.2 221.9 M143.3 218.2 L139.7 221.9 M143.3 218.2 L146.9 221.9 M147.3 218.2 L143.7 221.9 M147.3 218.2 L150.9 221.9 M156.1 218.2 L152.5 221.9 M156.1 218.2 L159.7 221.9 M160.1 218.2 L156.5 221.9 M160.1 218.2 L163.7 221.9 M168.8 218.2 L165.2 221.9 M168.8 218.2 L172.4 221.9 M172.8 218.2 L169.2 221.9 M172.8 218.2 L176.4 221.9 M181.6 218.2 L178.0 221.9 M181.6 218.2 L185.2 221.9 M185.6 218.2 L182.0 221.9 M185.6 218.2 L189.2 221.9" stroke="#151515" stroke-width="0.7"/>
<line x1="62.8" y1="217.6" x2="190.3" y2="217.6" stroke="#333" stroke-width="0.5"/>
<path d="M62.8 225.7 H99.2 M62.8 224.4 v2.6 M99.2 224.4 v2.6 M62.8 230.9 H190.2 M62.8 229.6 v2.6 M190.2 229.6 v2.6 M53.3 170.6 V198.3 M59.2 170.6 V218.2 M51.8 170.6 h8.8 M51.8 198.3 h8.8 M57.8 184 h2.8 M57.8 218.2 h2.8 M192.8 153 V198.1 M191.4 153 h2.8 M190.3 198.1 H201" stroke="#5a5a5a" stroke-width="0.75" fill="none"/>
<path d="M52.40 172.60 L53.30 170.60 L54.20 172.60 Z M52.40 196.30 L53.30 198.30 L54.20 196.30 Z M58.30 172.60 L59.20 170.60 L60.10 172.60 Z M58.30 182.00 L59.20 184.00 L60.10 182.00 Z M58.30 186.00 L59.20 184.00 L60.10 186.00 Z M58.30 196.30 L59.20 198.30 L60.10 196.30 Z M58.30 200.30 L59.20 198.30 L60.10 200.30 Z M58.30 216.20 L59.20 218.20 L60.10 216.20 Z M191.90 155.00 L192.80 153.00 L193.70 155.00 Z M191.90 196.10 L192.80 198.10 L193.70 196.10 Z M64.80 224.80 L62.80 225.70 L64.80 226.60 Z M97.20 224.80 L99.20 225.70 L97.20 226.60 Z M64.80 230.00 L62.80 230.90 L64.80 231.80 Z M188.20 230.00 L190.20 230.90 L188.20 231.80 Z M201.00 197.20 L203.00 198.10 L201.00 199.00 Z" fill="#111"/>
<text x="79.6" y="229.4" font-size="4.6" font-style="italic" fill="#111" stroke="#111" stroke-width="0.15">b</text>
<text x="126" y="234.6" font-size="4.6" font-style="italic" fill="#111" stroke="#111" stroke-width="0.15">l</text>
<text x="47.4" y="184.6" font-size="4.6" font-style="italic" fill="#111" stroke="#111" stroke-width="0.15">h<tspan font-size="2.9" dy="0.8">w</tspan></text>
<text x="54.9" y="179.4" font-size="4.6" font-style="italic" fill="#111" stroke="#111" stroke-width="0.15">h<tspan font-size="2.9" dy="0.8">1</tspan></text>
<text x="54.9" y="189.6" font-size="4.6" font-style="italic" fill="#111" stroke="#111" stroke-width="0.15">h<tspan font-size="2.9" dy="0.8">2</tspan></text>
<text x="54.9" y="207.4" font-size="4.6" font-style="italic" fill="#111" stroke="#111" stroke-width="0.15">h<tspan font-size="2.9" dy="0.8">3</tspan></text>
<text x="194.6" y="182.4" font-size="4.6" font-style="italic" fill="#111" stroke="#111" stroke-width="0.15">h<tspan font-size="2.9" dy="0.8">0</tspan></text>
<text x="196.6" y="195.9" font-size="4.6" font-style="italic" fill="#111" stroke="#111" stroke-width="0.15">x</text>
</svg></body></html>
